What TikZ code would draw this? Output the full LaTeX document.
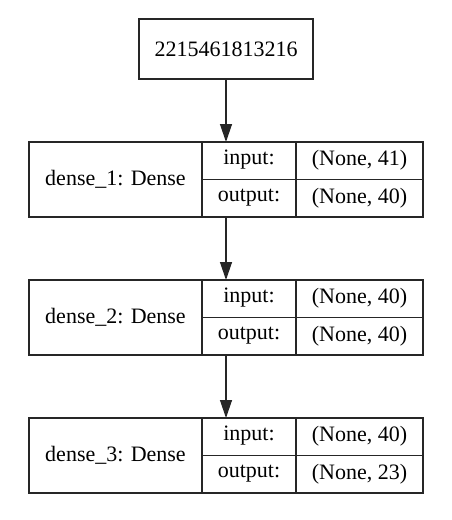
\documentclass[tikz,border=0pt]{standalone}
\usepackage{fontspec}
\setmainfont{Liberation Serif}
\usetikzlibrary{arrows.meta}
\begin{document}
\begin{tikzpicture}[x=1pt,y=-1pt,
  box/.style={draw=black!85,line width=1.3pt},
  txt/.style={font=\fontsize{22}{24}\selectfont,inner sep=0pt,anchor=center},
  conn/.style={draw=black!85,line width=1.3pt,-{Triangle[width=12pt,length=18pt]}}]
\useasboundingbox (0,0) rectangle (451,520);
% top node
\node[box,minimum width=174pt,minimum height=60pt,inner sep=0pt,font=\fontsize{22}{24}\selectfont] (in) at (226,49) {2215461813216};
% layer macro via foreach
\foreach \n/\t/\a/\b in {1/142/41/40,2/280/40/40,3/418/40/23}{
  \coordinate (L\n top) at (226,\t);
  \draw[box] (29,\t) rectangle (423,\t+75);
  \draw[box] (202,\t) -- (202,\t+75);
  \draw[box] (296,\t) -- (296,\t+75);
  \draw[box] (202,\t+37.5) -- (423,\t+37.5);
  \node[txt] (name\n) at (115.5,\t+37.5) {dense\_\n: Dense};
  \node[txt] (inl\n) at (249,\t+18) {input:};
  \node[txt] (outl\n) at (249,\t+56) {output:};
  \node[txt] (inv\n) at (359.5,\t+18) {(None, \a)};
  \node[txt] (outv\n) at (359.5,\t+56) {(None, \b)};
  \coordinate (L\n bot) at (226,\t+75);
}
\draw[conn] (in.south) -- (L1top);
\draw[conn] (L1bot) -- (L2top);
\draw[conn] (L2bot) -- (L3top);
\end{tikzpicture}
\end{document}
